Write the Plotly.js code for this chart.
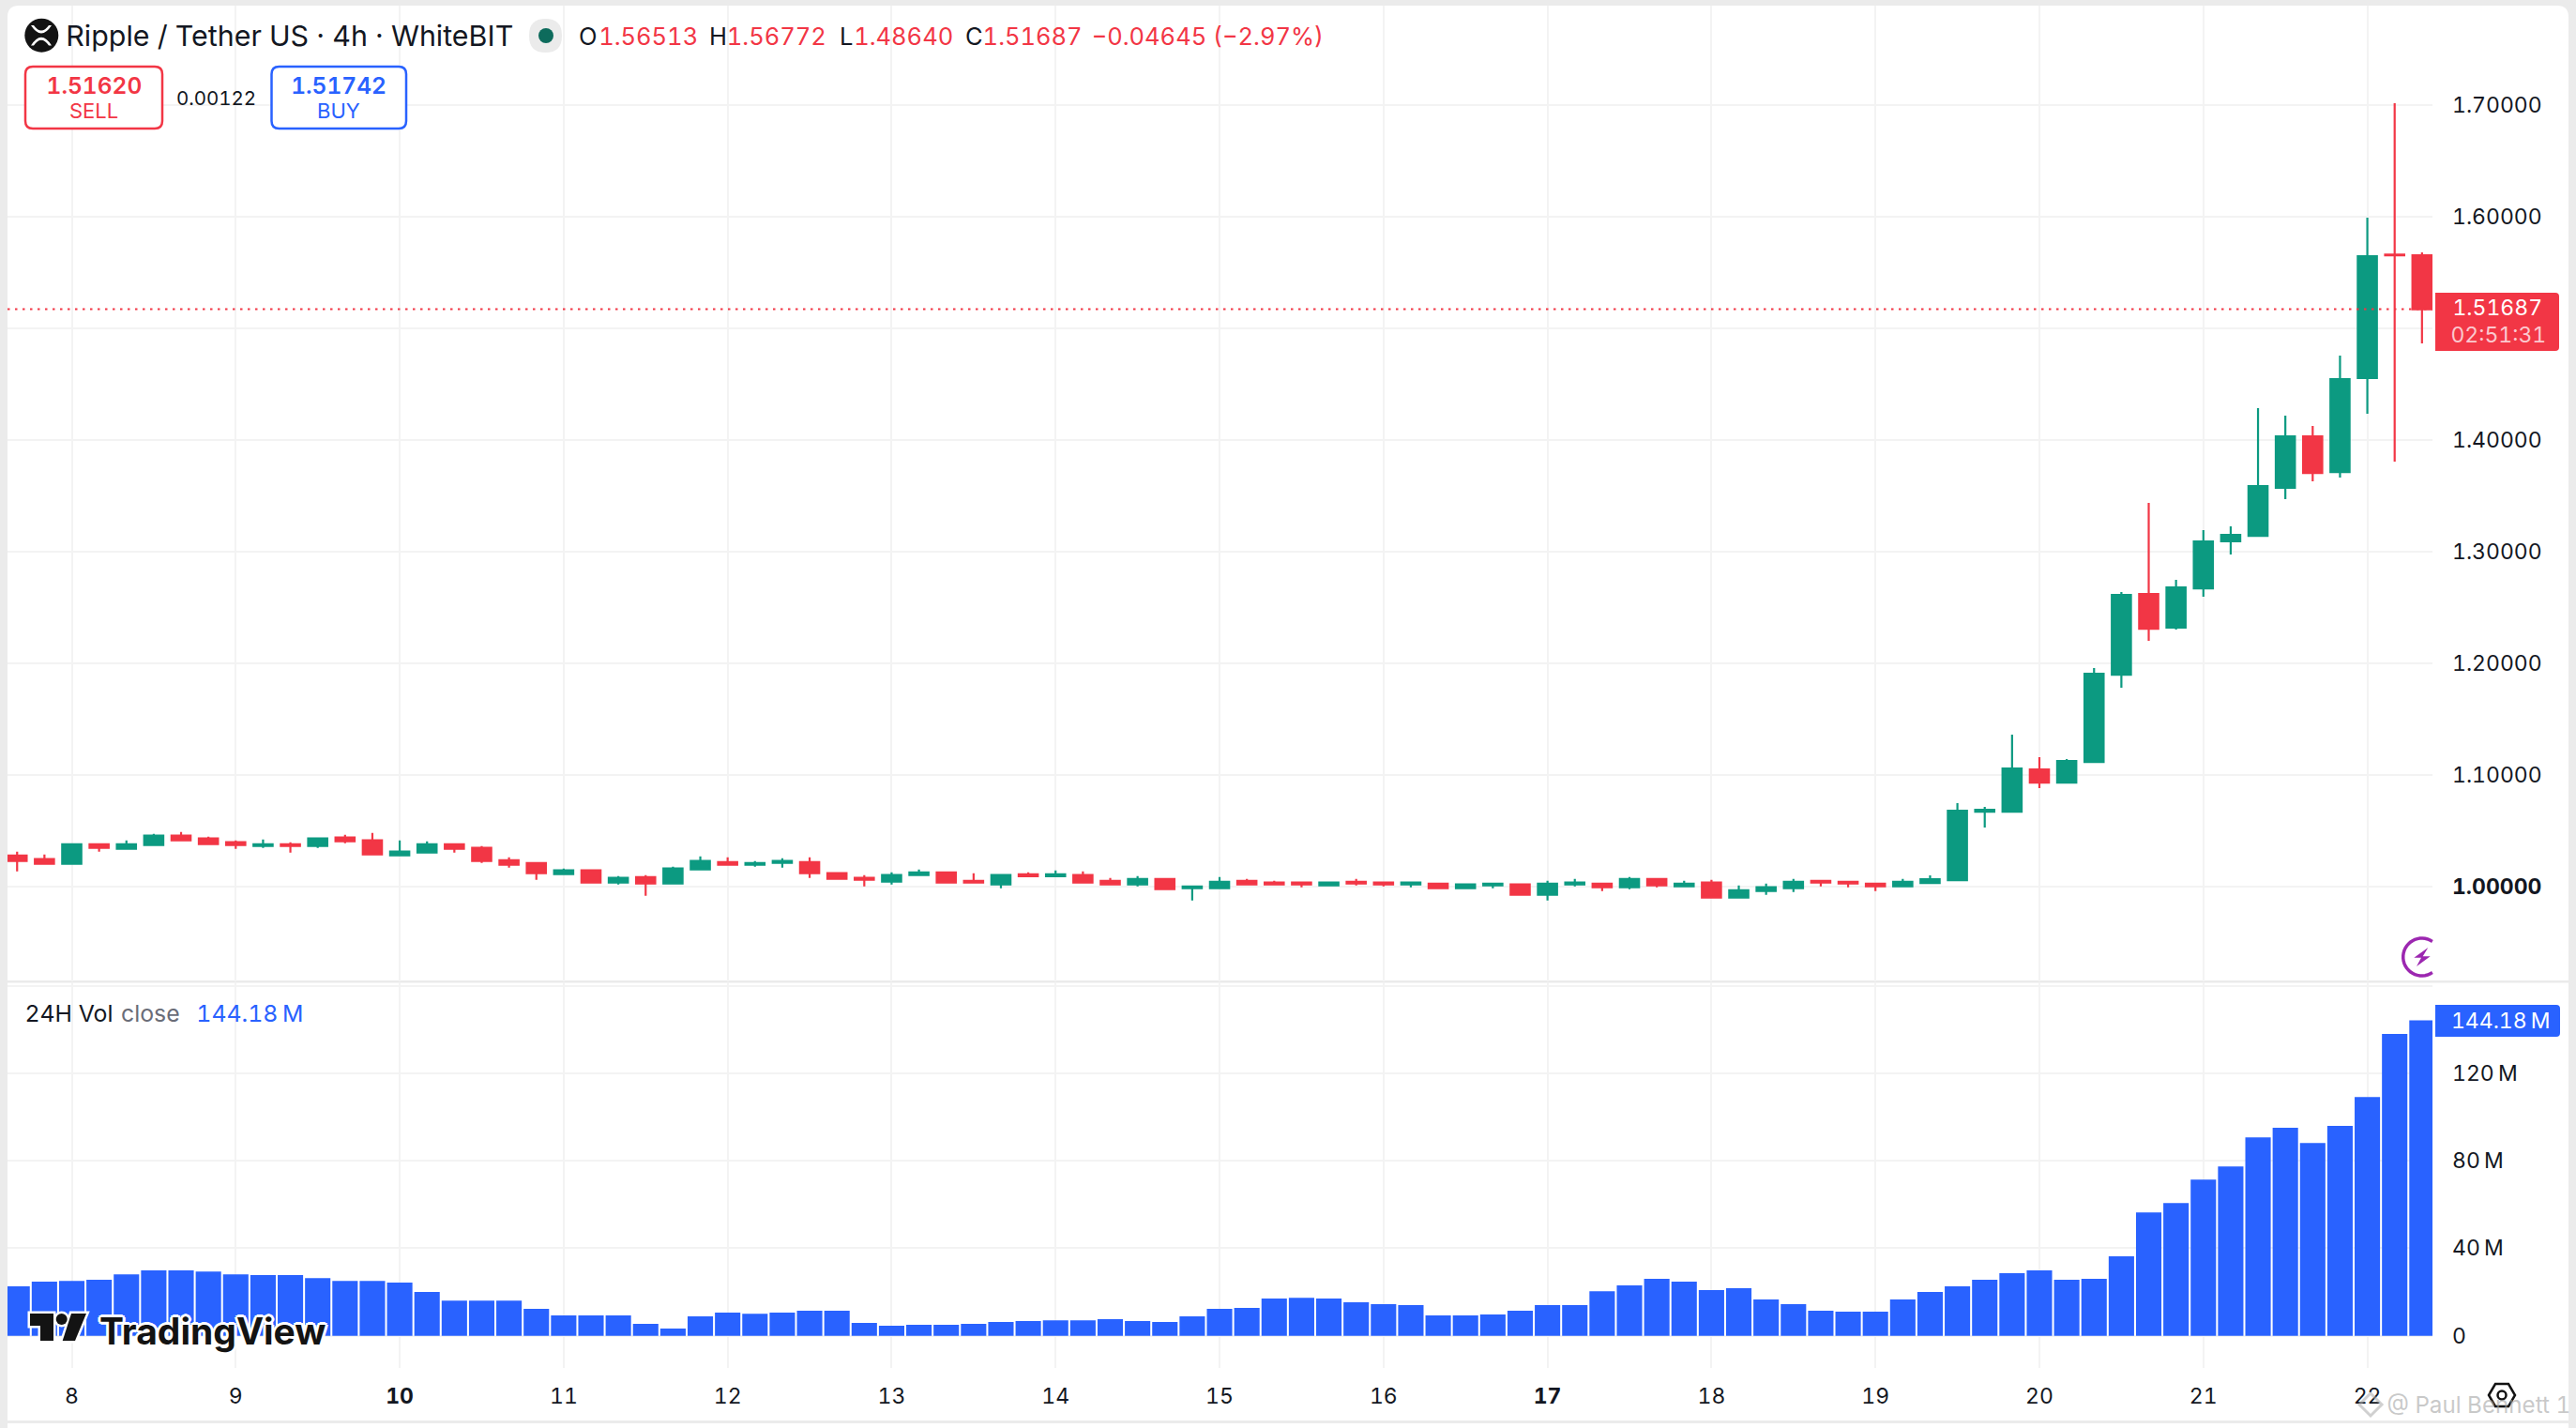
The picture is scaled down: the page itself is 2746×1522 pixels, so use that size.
<!DOCTYPE html>
<html>
<head>
<meta charset="utf-8">
<script src="https://cdn.plot.ly/plotly-3.0.1.min.js"></script>
<style>html,body{margin:0;padding:0;background:#fff}#chart{width:2746px;height:1522px}
#chart svg text{font-variant-numeric:tabular-nums;font-feature-settings:"tnum" 1}</style>
</head>
<body>
<div id="chart"></div>
<script>
const barTimes = [
"2024-11-07 16:00","2024-11-07 20:00",
"2024-11-08 00:00","2024-11-08 04:00","2024-11-08 08:00","2024-11-08 12:00","2024-11-08 16:00","2024-11-08 20:00",
"2024-11-09 00:00","2024-11-09 04:00","2024-11-09 08:00","2024-11-09 12:00","2024-11-09 16:00","2024-11-09 20:00",
"2024-11-10 00:00","2024-11-10 04:00","2024-11-10 08:00","2024-11-10 12:00","2024-11-10 16:00","2024-11-10 20:00",
"2024-11-11 00:00","2024-11-11 04:00","2024-11-11 08:00","2024-11-11 12:00","2024-11-11 16:00","2024-11-11 20:00",
"2024-11-12 00:00","2024-11-12 04:00","2024-11-12 08:00","2024-11-12 12:00","2024-11-12 16:00","2024-11-12 20:00",
"2024-11-13 00:00","2024-11-13 04:00","2024-11-13 08:00","2024-11-13 12:00","2024-11-13 16:00","2024-11-13 20:00",
"2024-11-14 00:00","2024-11-14 04:00","2024-11-14 08:00","2024-11-14 12:00","2024-11-14 16:00","2024-11-14 20:00",
"2024-11-15 00:00","2024-11-15 04:00","2024-11-15 08:00","2024-11-15 12:00","2024-11-15 16:00","2024-11-15 20:00",
"2024-11-16 00:00","2024-11-16 04:00","2024-11-16 08:00","2024-11-16 12:00","2024-11-16 16:00","2024-11-16 20:00",
"2024-11-17 00:00","2024-11-17 04:00","2024-11-17 08:00","2024-11-17 12:00","2024-11-17 16:00","2024-11-17 20:00",
"2024-11-18 00:00","2024-11-18 04:00","2024-11-18 08:00","2024-11-18 12:00","2024-11-18 16:00","2024-11-18 20:00",
"2024-11-19 00:00","2024-11-19 04:00","2024-11-19 08:00","2024-11-19 12:00","2024-11-19 16:00","2024-11-19 20:00",
"2024-11-20 00:00","2024-11-20 04:00","2024-11-20 08:00","2024-11-20 12:00","2024-11-20 16:00","2024-11-20 20:00",
"2024-11-21 00:00","2024-11-21 04:00","2024-11-21 08:00","2024-11-21 12:00","2024-11-21 16:00","2024-11-21 20:00",
"2024-11-22 00:00","2024-11-22 04:00","2024-11-22 08:00"];

const opens = [1.0277,1.0244,1.0202,1.0378,1.0336,1.0370,1.0454,1.0429,1.0395,1.0361,1.0378,1.0361,1.0437,1.0412,1.0277,1.0303,1.0378,1.0345,1.0235,1.0210,1.0109,1.0143,1.0034,1.0084,1.0025,1.0151,1.0218,1.0193,1.0210,1.0218,1.0118,1.0076,1.0042,1.0101,1.0126,1.0050,1.0017,1.0109,1.0092,1.0101,1.0050,1.0017,1.0067,0.9983,0.9983,1.0050,1.0034,1.0034,1.0008,1.0042,1.0034,1.0017,1.0025,0.9983,1.0008,1.0017,0.9924,1.0017,1.0025,0.9992,1.0067,1.0000,1.0034,0.9899,0.9958,0.9983,1.0050,1.0042,1.0025,1.0000,1.0031,1.0056,1.0669,1.0669,1.1048,1.0930,1.1115,1.1896,1.2619,1.2317,1.2669,1.3090,1.3140,1.3569,1.4031,1.3711,1.4552,1.5658,1.56513];
const highs = [1.0311,1.0286,1.0387,1.0387,1.0412,1.0471,1.0487,1.0445,1.0412,1.0420,1.0395,1.0437,1.0462,1.0479,1.0412,1.0403,1.0387,1.0361,1.0261,1.0218,1.0160,1.0151,1.0092,1.0101,1.0176,1.0269,1.0261,1.0227,1.0252,1.0261,1.0126,1.0101,1.0126,1.0151,1.0134,1.0118,1.0101,1.0126,1.0143,1.0134,1.0076,1.0092,1.0076,1.0008,1.0084,1.0067,1.0050,1.0034,1.0042,1.0067,1.0042,1.0034,1.0034,1.0017,1.0034,1.0025,1.0050,1.0067,1.0034,1.0084,1.0067,1.0050,1.0059,1.0008,1.0025,1.0067,1.0050,1.0042,1.0025,1.0067,1.0098,1.0745,1.0711,1.1359,1.1157,1.1140,1.1955,1.2636,1.3434,1.2745,1.3190,1.3224,1.4283,1.4216,1.4123,1.4754,1.5989,1.7014,1.56772];
const lows = [1.0134,1.0193,1.0193,1.0311,1.0328,1.0370,1.0403,1.0370,1.0336,1.0345,1.0303,1.0345,1.0387,1.0286,1.0277,1.0303,1.0303,1.0210,1.0168,1.0059,1.0101,1.0025,1.0017,0.9916,1.0017,1.0151,1.0193,1.0176,1.0168,1.0076,1.0059,1.0000,1.0017,1.0092,1.0034,1.0034,0.9983,1.0084,1.0092,1.0034,1.0008,1.0000,0.9975,0.9874,0.9975,1.0017,1.0008,0.9992,1.0000,1.0008,1.0000,0.9992,0.9975,0.9983,0.9983,0.9916,0.9874,1.0000,0.9958,0.9975,0.9992,0.9992,0.9891,0.9899,0.9924,0.9950,1.0000,0.9992,0.9958,0.9992,1.0031,1.0056,1.0527,1.0669,1.0880,1.0930,1.1115,1.1779,1.2199,1.2300,1.2594,1.2972,1.3132,1.3468,1.3627,1.3661,1.4232,1.3804,1.48640];
const closes = [1.0227,1.0202,1.0378,1.0345,1.0378,1.0454,1.0412,1.0378,1.0370,1.0378,1.0361,1.0429,1.0403,1.0286,1.0311,1.0378,1.0336,1.0227,1.0193,1.0118,1.0143,1.0034,1.0076,1.0025,1.0160,1.0227,1.0193,1.0210,1.0227,1.0118,1.0067,1.0059,1.0101,1.0126,1.0034,1.0034,1.0101,1.0092,1.0109,1.0034,1.0017,1.0067,0.9975,1.0000,1.0042,1.0017,1.0017,1.0017,1.0034,1.0025,1.0017,1.0034,0.9983,1.0017,1.0025,0.9924,1.0025,1.0034,0.9992,1.0067,1.0008,1.0025,0.9899,0.9966,0.9992,1.0042,1.0034,1.0025,1.0000,1.0042,1.0064,1.0678,1.0686,1.1056,1.0930,1.1123,1.1905,1.2611,1.2308,1.2678,1.3090,1.3148,1.3585,1.4031,1.3703,1.4543,1.5644,1.56513,1.51687];

const volumesM = [22.6,24.7,25.1,25.6,28.1,29.9,29.9,29.4,28.1,27.7,27.7,26.4,25.1,25.1,24.3,20.0,16.1,16.1,16.1,12.3,9.3,9.3,9.3,5.4,3.3,8.9,10.6,10.1,10.6,11.4,11.4,5.9,4.6,5.0,5.0,5.4,6.3,6.7,7.1,7.1,7.6,6.7,6.3,8.9,12.3,12.7,17.0,17.4,17.0,15.3,14.4,14.0,9.3,9.3,9.7,11.4,14.0,14.0,20.4,23.0,26.0,24.7,20.9,21.7,16.6,14.4,11.4,11.0,11.0,16.6,20.0,22.6,25.6,28.6,29.9,25.6,26.0,36.3,56.4,60.7,71.4,77.4,90.7,95.0,88.1,95.9,109.1,137.9,144.18];

const dayTicks = ["2024-11-08","2024-11-09","2024-11-10","2024-11-11","2024-11-12","2024-11-13","2024-11-14","2024-11-15","2024-11-16","2024-11-17","2024-11-18","2024-11-19","2024-11-20","2024-11-21","2024-11-22"];
const dayLabels = ["8","9","<b>10</b>","11","12","13","14","15","16","<b>17</b>","18","19","20","21","22"];
const priceTicks = [1.0,1.1,1.2,1.3,1.4,1.5,1.6,1.7];
const priceLabels = ["<b>1.00000</b>","1.10000","1.20000","1.30000","1.40000","","1.60000","1.70000"];
const volTicks = [0,40,80,120,160];
const volLabels = ["0","40\u2009M","80\u2009M","120\u2009M",""];
const lastClose = 1.51687;

const RED="#F23645", GREEN="#0C9A81", BLUE="#2962FF", GRAY="#EBEBEB", GRID="#F3F3F3", INK="#131722", FONT="Inter";
const W=2746, H=1522;
const px=x=>x/W, py=y=>1-y/H;
const P=(cmds)=>cmds.map(c=>{
  const a=c.slice(1);let s=c[0];
  for(let i=0;i<a.length;i+=2){s+=" "+px(a[i]).toFixed(6)+","+py(a[i+1]).toFixed(6);}
  return s;}).join(" ");
const pathShape=(cmds,o)=>Object.assign({type:"path",xref:"paper",yref:"paper",path:P(cmds),layer:"above",line:{width:0}},o||{});
const rectS=(x0,y0,x1,y1,c,layer)=>({type:"rect",xref:"paper",yref:"paper",x0:px(x0),x1:px(x1),y0:py(y0),y1:py(y1),fillcolor:c,line:{width:0},layer:layer||"above"});
const circle=(cx,cy,r,o)=>Object.assign({type:"circle",xref:"paper",yref:"paper",x0:px(cx-r),x1:px(cx+r),y0:py(cy+r),y1:py(cy-r),layer:"above",line:{width:0}},o);
const round=(x0,y0,x1,y1,r)=>[["M",x0+r,y0],["L",x1-r,y0],["Q",x1,y0,x1,y0+r],["L",x1,y1-r],["Q",x1,y1,x1-r,y1],["L",x0+r,y1],["Q",x0,y1,x0,y1-r],["L",x0,y0+r],["Q",x0,y0,x0+r,y0],["Z"]];
const tag=(x0,y0,x1,y1,r)=>[["M",x0,y0],["L",x1-r,y0],["Q",x1,y0,x1,y0+r],["L",x1,y1-r],["Q",x1,y1,x1-r,y1],["L",x0,y1],["Z"]];
const ann=(text,x,y,o)=>{o=o||{};return {text:text,xref:"paper",yref:"paper",x:px(x),y:py(y),xanchor:o.anchor||"left",yanchor:"middle",showarrow:false,borderpad:0,borderwidth:0,
  font:{family:FONT,size:o.size||23,color:o.color||INK,weight:o.weight||400,shadow:o.shadow||"none"}};};

const arcPts=[];
for(let a=56;a<=304;a+=8){arcPts.push([a===56?"M":"L",2581.7+20*Math.cos(a*Math.PI/180),1020-20*Math.sin(a*Math.PI/180)]);}

const shapes=[
  rectS(0,0,W,6,GRAY,"below"), rectS(0,0,8,H,GRAY,"below"), rectS(2738,0,W,H,GRAY,"below"),
  rectS(8,1514,2738,1517,GRAY,"below"), rectS(8,1045,2738,1047.5,GRAY,"below"),
  pathShape([["M",8,6],["L",20,6],["Q",8,6,8,18],["Z"]],{fillcolor:GRAY,layer:"below"}),
  pathShape([["M",2738,6],["L",2726,6],["Q",2738,6,2738,18],["Z"]],{fillcolor:GRAY,layer:"below"}),
  {type:"line",xref:"paper",yref:"y",x0:px(8),x1:px(2593),y0:lastClose,y1:lastClose,line:{color:RED,width:2,dash:"2.5px,5.5px"},layer:"above"},
  pathShape(tag(2596,312,2728,374,4),{fillcolor:RED}),
  pathShape(tag(2596,1071,2729,1105,4),{fillcolor:BLUE}),
  pathShape(round(27,71,173,137,8),{fillcolor:"rgba(255,255,255,1)",line:{color:RED,width:2.5}}),
  pathShape(round(289.5,71,433,137,8),{fillcolor:"rgba(255,255,255,1)",line:{color:BLUE,width:2.5}}),
  circle(44.3,37.7,18,{fillcolor:"#131313"}),
  pathShape([["M",33,27],["L",36,27],["Q",44,38,52,27],["L",55,27],["Q",44,44,33,27],["Z"]],{fillcolor:"#fff"}),
  pathShape([["M",33,48.5],["L",36,48.5],["Q",44,37,52,48.5],["L",55,48.5],["Q",44,31,33,48.5],["Z"]],{fillcolor:"#fff"}),
  pathShape(round(564,20,599,56,17.5),{fillcolor:GRAY}),
  circle(582,38,8,{fillcolor:"#0D6B5C"}),
  pathShape([["M",32,1400],["L",57,1400],["L",57,1429],["L",43,1429],["L",43,1413],["L",32,1413],["Z"]],{fillcolor:"#131313",line:{color:"#fff",width:5}}),
  circle(65.7,1406,6.5,{fillcolor:"#131313",line:{color:"#fff",width:4}}),
  pathShape([["M",76,1400],["L",92,1400],["L",80,1429],["L",66.7,1429],["Z"]],{fillcolor:"#131313",line:{color:"#fff",width:5}}),
  pathShape([["M",32,1400],["L",57,1400],["L",57,1429],["L",43,1429],["L",43,1413],["L",32,1413],["Z"]],{fillcolor:"#131313"}),
  circle(65.7,1406,6,{fillcolor:"#131313"}),
  pathShape([["M",76,1400],["L",92,1400],["L",80,1429],["L",66.7,1429],["Z"]],{fillcolor:"#131313"}),
  pathShape(arcPts,{line:{color:"#9C27B0",width:3.5},fillcolor:"rgba(0,0,0,0)"}),
  pathShape([["M",2588.3,1010],["L",2573.3,1020.7],["L",2581,1020.7],["L",2576,1030],["L",2590.7,1019.3],["L",2582.7,1019.3],["Z"]],{fillcolor:"#9C27B0"}),
  pathShape([["M",2653,1487],["L",2660,1475],["L",2674,1475],["L",2681,1487],["L",2674,1499],["L",2660,1499],["Z"]],{line:{color:"#131313",width:2.5},fillcolor:"rgba(0,0,0,0)"}),
  circle(2667,1487,4.5,{line:{color:"#131313",width:2.5},fillcolor:"rgba(0,0,0,0)"}),
  pathShape([["M",2515,1497],["L",2527,1485],["L",2539,1497],["L",2527,1509],["Z"]],{line:{color:"rgba(170,170,170,0.55)",width:3},fillcolor:"rgba(0,0,0,0)"})
];

const annotations=[
  ann("Ripple / Tether US · 4h · WhiteBIT",69,38,{size:30.4}),
  ann("O",617,38,{size:25.5}),ann("1.56513",646,38,{size:25.5,color:RED}),
  ann("H",756,38,{size:25.5}),ann("1.56772",781,38,{size:25.5,color:RED}),
  ann("L",895,38,{size:25.5}),ann("1.48640",914,38,{size:25.5,color:RED}),
  ann("C",1029,38,{size:25.5}),ann("1.51687",1056,38,{size:25.5,color:RED}),
  ann("\u22120.04645 (\u22122.97%)",1168,38,{size:25.5,color:RED}),
  ann("1.51620",100,91,{anchor:"center",size:24.5,color:RED,weight:600}),
  ann("SELL",100,118,{anchor:"center",size:22,color:RED}),
  ann("0.00122",230.5,104,{anchor:"center",size:20.5}),
  ann("1.51742",361,91,{anchor:"center",size:24.5,color:BLUE,weight:600}),
  ann("BUY",361,118,{anchor:"center",size:22,color:BLUE}),
  ann("1.51687",2662,328,{anchor:"center",size:23,color:"#fff"}),
  ann("02:51:31",2663,357,{anchor:"center",size:23,color:"#FBC8CE"}),
  ann("144.18\u2009M",2620,1088,{size:23,color:"#fff"}),
  ann("24H Vol",26.5,1080,{size:24.8}),
  ann("close",129,1080,{size:24.8,color:"#6A6D78"}),
  ann("144.18\u2009M",217,1080,{size:24.8,color:BLUE}),
  ann("TradingView",106,1418,{size:39,weight:700,color:"#131313",shadow:"2px 0 0 #fff,-2px 0 0 #fff,0 2px 0 #fff,0 -2px 0 #fff,2px 2px 0 #fff,-2px 2px 0 #fff,2px -2px 0 #fff,-2px -2px 0 #fff,3px 0 0 #fff,-3px 0 0 #fff,0 3px 0 #fff,0 -3px 0 #fff"}),
  ann("@ Paul Bennett 1",2547,1497,{size:24.2,color:"rgba(165,165,165,0.6)"})
];

const traces=[
 {type:"bar",x:barTimes,y:volumesM,xaxis:"x",yaxis:"y2",marker:{color:BLUE,line:{width:0}},hoverinfo:"skip",showlegend:false},
 {type:"candlestick",x:barTimes,open:opens,high:highs,low:lows,close:closes,xaxis:"x",yaxis:"y",whiskerwidth:0,
  increasing:{line:{color:GREEN,width:2.2},fillcolor:GREEN},decreasing:{line:{color:RED,width:2.2},fillcolor:RED},hoverinfo:"skip",showlegend:false}
];

const layout={
  width:W,height:H,margin:{l:0,r:0,t:0,b:0},paper_bgcolor:"#fff",plot_bgcolor:"rgba(0,0,0,0)",
  showlegend:false,bargap:0.07,boxgap:0.3,boxgroupgap:0,dragmode:false,font:{family:FONT,color:INK,size:23},
  xaxis:{type:"date",domain:[px(8),px(2593)],range:["2024-11-07 14:35:40","2024-11-22 09:32:00"],anchor:"y2",
    tickmode:"array",tickvals:dayTicks,ticktext:dayLabels,showgrid:true,gridcolor:GRID,gridwidth:2,ticks:"",ticklabelstandoff:14,
    tickfont:{family:FONT,size:23,color:INK},showline:false,zeroline:false,rangeslider:{visible:false},fixedrange:true},
  yaxis:{domain:[py(1046),py(6)],range:[0.9149,1.7888],side:"right",anchor:"x",tickmode:"array",tickvals:priceTicks,ticktext:priceLabels,
    showgrid:true,gridcolor:GRID,gridwidth:2,ticks:"",ticklabelstandoff:20,tickfont:{family:FONT,size:23,color:INK},showline:false,zeroline:false,fixedrange:true},
  yaxis2:{domain:[py(1457.7),py(1047)],range:[-14.57,161.5],side:"right",anchor:"x",tickmode:"array",tickvals:volTicks,ticktext:volLabels,
    showgrid:true,gridcolor:GRID,gridwidth:2,ticks:"",ticklabelstandoff:20,tickfont:{family:FONT,size:23,color:INK},showline:false,zeroline:false,fixedrange:true},
  shapes:shapes,annotations:annotations
};
Plotly.newPlot("chart",traces,layout,{displayModeBar:false,responsive:false});
</script>
</body>
</html>
